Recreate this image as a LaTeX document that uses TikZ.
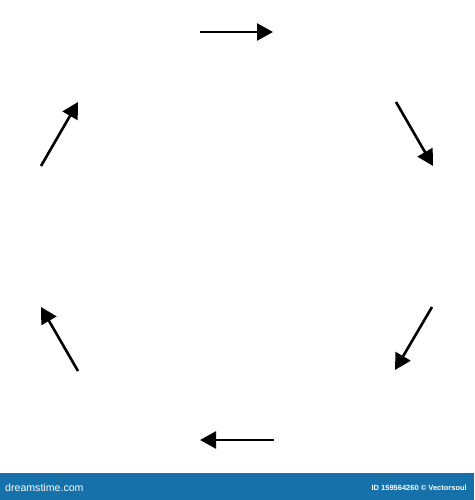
\documentclass[tikz,border=0pt]{standalone}
\usepackage{fontspec}
\setmainfont{Liberation Sans}
\usetikzlibrary{arrows.meta}
\definecolor{dsblue}{RGB}{22,112,170}
\begin{document}
\begin{tikzpicture}[x=1pt,y=-1pt,
  arr/.style={line width=2.6pt,-{Triangle[length=16pt,width=17pt]}},
  bartext/.style={text=white,font=\bfseries\fontsize{7.5}{8}\selectfont,inner sep=0pt}]
\useasboundingbox (0,0) rectangle (474,500);
\fill[white] (0,0) rectangle (474,500);
\coordinate (a1) at (200,32);  \coordinate (b1) at (273,32);
\coordinate (a2) at (396,102); \coordinate (b2) at (433,166);
\coordinate (a3) at (432,307); \coordinate (b3) at (395,370);
\coordinate (a4) at (274,440); \coordinate (b4) at (200,440);
\coordinate (a5) at (78,371);  \coordinate (b5) at (41,307);
\coordinate (a6) at (41,166);  \coordinate (b6) at (78,102);
\draw[arr] (a1) -- (b1);
\draw[arr] (a2) -- (b2);
\draw[arr] (a3) -- (b3);
\draw[arr] (a4) -- (b4);
\draw[arr] (a5) -- (b5);
\draw[arr] (a6) -- (b6);
\fill[dsblue] (0,473) rectangle (474,500);
\node[bartext,anchor=west,font=\fontsize{10.6}{11}\selectfont] (ds) at (5,488) {dreamstime.com};
\node[bartext,anchor=east] (id) at (467,488) {ID 159564260 © Vectorsoul};
\end{tikzpicture}
\end{document}
